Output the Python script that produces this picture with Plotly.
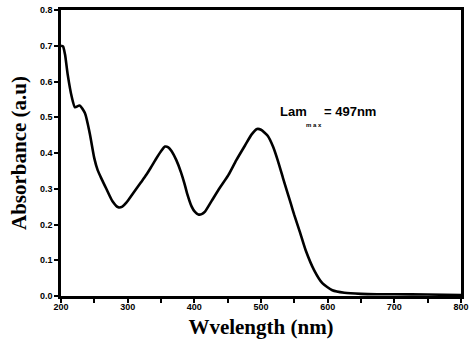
import plotly.graph_objects as go

wavelength = [200, 203, 206, 210, 216, 221, 228, 236, 243, 250, 255, 261, 268, 277, 286,
              292, 298, 305, 313, 320, 328, 335, 342, 350, 356, 361, 366, 373, 380, 385,
              389, 396, 401, 406, 411, 416, 426, 438, 451, 463, 476, 486, 494, 500, 510,
              518, 525, 533, 540, 545, 550, 558, 567, 580, 592, 607, 625, 650, 674, 700, 750, 800]
absorbance = [0.700, 0.698, 0.676, 0.620, 0.558, 0.528, 0.533, 0.511, 0.456, 0.385, 0.352, 0.327, 0.300, 0.266, 0.248,
              0.250, 0.261, 0.279, 0.300, 0.318, 0.339, 0.360, 0.382, 0.405, 0.418, 0.416, 0.405, 0.380, 0.346, 0.316,
              0.288, 0.250, 0.235, 0.228, 0.229, 0.236, 0.266, 0.302, 0.338, 0.380, 0.421, 0.452, 0.467, 0.465, 0.448,
              0.418, 0.380, 0.330, 0.287, 0.257, 0.226, 0.181, 0.128, 0.071, 0.036, 0.016, 0.009, 0.006, 0.005, 0.005, 0.004, 0.003]

x_ticks = [200, 300, 400, 500, 600, 700, 800]
y_ticks = [0.0, 0.1, 0.2, 0.3, 0.4, 0.5, 0.6, 0.7, 0.8]
y_labels = ["0.0", "0.1", "0.2", "0.3", "0.4", "0.5", "0.6", "0.7", "0.8"]

fig = go.Figure()
fig.add_trace(go.Scatter(x=wavelength, y=absorbance, mode="lines",
                         line=dict(color="black", width=2.6, shape="spline", smoothing=0.6),
                         showlegend=False, hoverinfo="skip"))

tickfont = dict(family="Liberation Sans, Arial", size=9, color="black", weight="bold")
titlefont = dict(family="Liberation Serif, Times New Roman", size=21, color="black", weight="bold")

fig.update_layout(
    width=474, height=342,
    margin=dict(l=61, r=9, t=5, b=46),
    plot_bgcolor="white", paper_bgcolor="white",
    xaxis=dict(range=[200, 800], tickvals=x_ticks, ticktext=[str(v) for v in x_ticks],
               showgrid=False, zeroline=False, showline=True, linecolor="black", linewidth=2.5,
               mirror=True, ticks="", tickfont=tickfont,
               minor=dict(ticks="outside", dtick=50, ticklen=4, tickwidth=2, tickcolor="black"),
               title=dict(text="Wvelength (nm)", font=titlefont, standoff=9)),
    yaxis=dict(range=[0, 0.8], tickvals=y_ticks, ticktext=y_labels,
               showgrid=False, zeroline=False, showline=True, linecolor="black", linewidth=2.5,
               mirror=True, ticks="outside", ticklen=4, tickwidth=2, tickcolor="black",
               tickfont=tickfont,
               title=dict(text="Absorbance (a.u)", font=titlefont, standoff=8)),
)

annfont = dict(family="Liberation Sans, Arial", size=13, color="black", weight="bold")
fig.add_annotation(x=548, y=0.517, text="Lam", showarrow=False, font=annfont)
fig.add_annotation(x=580, y=0.478, text="m a x", showarrow=False,
                   font=dict(family="Liberation Sans, Arial", size=6, color="black", weight="bold"))
fig.add_annotation(x=633, y=0.517, text="= 497nm", showarrow=False, font=annfont)

fig.write_html("out.html")
